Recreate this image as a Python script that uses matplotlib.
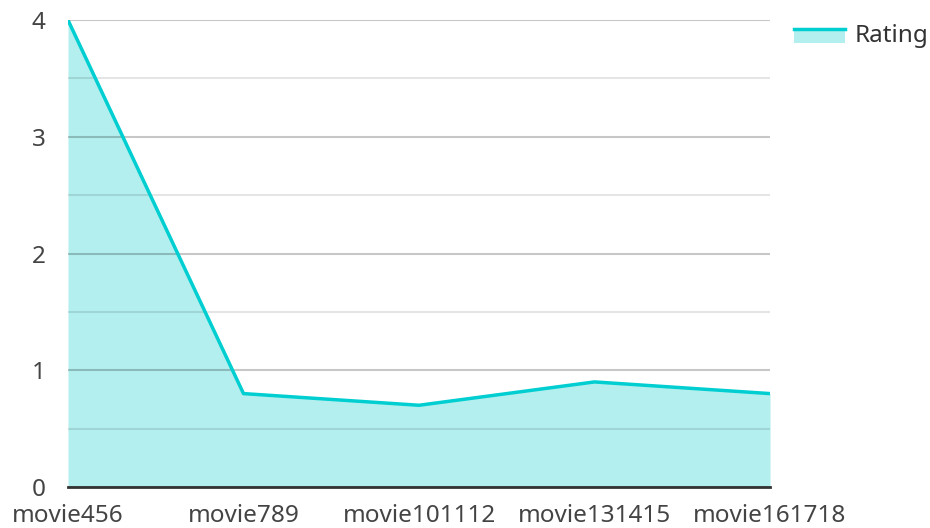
import matplotlib
matplotlib.use('Agg')
import matplotlib.pyplot as plt
from matplotlib.patches import Rectangle
from matplotlib.lines import Line2D
from matplotlib.legend_handler import HandlerBase
from matplotlib.ticker import MultipleLocator

plt.rcParams['font.family'] = ['Noto Sans', 'DejaVu Sans']

# data
movies = ['movie456', 'movie789', 'movie101112', 'movie131415', 'movie161718']
ratings = [4, 0.8, 0.7, 0.9, 0.8]

line_color = '#00CED1'
fill_color = '#B2EFEE'


# legend swatch: filled box with the line on its top edge
class AreaHandler(HandlerBase):
    def create_artists(self, legend, orig, xd, yd, w, h, fontsize, trans):
        top = yd + h * 0.75
        rect = Rectangle((xd, yd - h * 0.05), w, top - yd + h * 0.05,
                         facecolor=fill_color, edgecolor='none', transform=trans)
        line = Line2D([xd, xd + w], [top, top], color=line_color, linewidth=2.5,
                      transform=trans)
        return [rect, line]


fig = plt.figure(figsize=(9.3, 5.28), dpi=100)
ax = fig.add_axes([0.0731, 0.0777, 0.828 - 0.0731, 0.962 - 0.0777])

x = list(range(len(movies)))
ax.fill_between(x, ratings, 0, color=fill_color, linewidth=0, zorder=2)
area_line, = ax.plot(x, ratings, color=line_color, linewidth=2.5, zorder=3)

ax.set_xlim(0, len(movies) - 1)
ax.set_ylim(0, 4)
ax.set_xticks(x)
ax.set_xticklabels(movies)
ax.yaxis.set_major_locator(MultipleLocator(1))
ax.yaxis.set_minor_locator(MultipleLocator(0.5))

ax.grid(axis='y', which='major', color='#000000', alpha=0.22, linewidth=1.5, zorder=4)
ax.grid(axis='y', which='minor', color='#000000', alpha=0.1, linewidth=1.5, zorder=4)
ax.set_axisbelow(False)

for side in ['top', 'right', 'left']:
    ax.spines[side].set_visible(False)
ax.spines['bottom'].set_color('#333333')
ax.spines['bottom'].set_linewidth(2)
ax.spines['bottom'].set_zorder(5)

ax.tick_params(axis='both', which='both', length=0, labelsize=17.5, labelcolor='#444444')
ax.tick_params(axis='y', pad=16)
ax.tick_params(axis='x', pad=12)

fig.legend([area_line], ['Rating'], handler_map={area_line: AreaHandler()},
           loc='upper left', bbox_to_anchor=(782 / 930, 1 - 12 / 528),
           frameon=False, fontsize=17.5, labelcolor='#333333', borderpad=0,
           handlelength=2.1, handletextpad=0.38)

fig.savefig('out.png', dpi=100)
